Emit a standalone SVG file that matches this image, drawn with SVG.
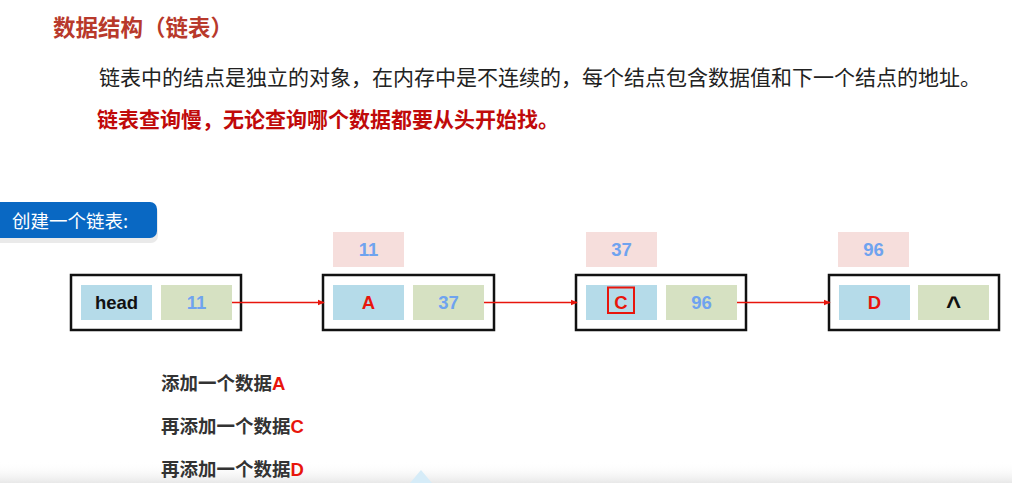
<svg xmlns="http://www.w3.org/2000/svg" width="1012" height="483" viewBox="0 0 1012 483">
<style>
.cjk{font-family:"Noto Sans CJK SC","Noto Sans",sans-serif}
.lat{font-family:"Liberation Sans","Noto Sans CJK SC",sans-serif;font-weight:bold}
.outer{fill:#fff;stroke:#111;stroke-width:2.5}
.bl{fill:#b5dbe9}
.gr{fill:#d6e1c2}
.pk{fill:#f6dedc}
.num{fill:#6fa3ef;font-size:18.5px;text-anchor:middle}
.conn{stroke:#e8150c;stroke-width:1.6;fill:none;marker-end:url(#ah)}
.step{font-size:18.5px;font-weight:bold;fill:#333}
</style>
<defs>
<marker id="ah" viewBox="0 0 10 10" refX="9" refY="5" markerWidth="7" markerHeight="7" markerUnits="userSpaceOnUse" orient="auto">
<path d="M0,1 L10,5 L0,9 z" fill="#e8150c"/>
</marker>
<linearGradient id="bot" x1="0" y1="0" x2="0" y2="1">
<stop offset="0" stop-color="#fff" stop-opacity="0"/>
<stop offset="1" stop-color="#e8e8e8"/>
</linearGradient>
</defs>
<rect width="1012" height="483" fill="#fff"/>
<rect x="0" y="462" width="1012" height="21" fill="url(#bot)"/>
<path d="M410,483 L421,470 L432,483 z" fill="#d6ecf8"/>

<g id="title">
<text class="cjk" x="53" y="36" font-size="22.5" font-weight="bold" fill="#b8392b">数据结构（链表）</text>
<text class="cjk" x="99" y="85" font-size="21" fill="#222">链表中的结点是独立的对象，在内存中是不连续的，每个结点包含数据值和下一个结点的地址。</text>
<text class="cjk" x="97" y="127" font-size="21" font-weight="bold" fill="#c00a0a">链表查询慢，无论查询哪个数据都要从头开始找。</text>
</g>

<g id="label">
<rect x="-10" y="205" width="168" height="38" rx="7" fill="#dcdcdc" opacity="0.6"/>
<rect x="-10" y="202" width="167" height="36" rx="7" fill="#0968c3"/>
<text class="cjk" x="12" y="228" font-size="18.5" fill="#fff">创建一个链表:</text>
</g>

<g id="node-head">
<rect class="outer" x="71" y="275" width="170" height="55"/>
<rect class="bl" x="81" y="285" width="71" height="35"/>
<rect class="gr" x="161" y="285" width="71" height="35"/>
<text class="lat" x="116.5" y="309" font-size="18.5" text-anchor="middle" fill="#111">head</text>
<text class="lat num" x="196.5" y="309">11</text>
</g>

<g id="node-A">
<rect class="pk" x="333" y="232" width="71" height="35"/>
<text class="lat num" x="368.5" y="256">11</text>
<rect class="outer" x="323" y="275" width="171" height="55"/>
<rect class="bl" x="333" y="285" width="71" height="35"/>
<rect class="gr" x="413" y="285" width="71" height="35"/>
<text class="lat" x="368.5" y="309" font-size="18.5" text-anchor="middle" fill="#e8150c">A</text>
<text class="lat num" x="448.5" y="309">37</text>
</g>

<g id="node-C">
<rect class="pk" x="586" y="232" width="71" height="35"/>
<text class="lat num" x="621.5" y="256">37</text>
<rect class="outer" x="576" y="275" width="170" height="55"/>
<rect class="bl" x="586" y="285" width="71" height="35"/>
<rect class="gr" x="666" y="285" width="71" height="35"/>
<rect x="608" y="287.5" width="26" height="25.5" fill="none" stroke="#e8150c" stroke-width="2"/>
<text class="lat" x="621" y="309" font-size="18.5" text-anchor="middle" fill="#e8150c">C</text>
<text class="lat num" x="701.5" y="309">96</text>
</g>

<g id="node-D">
<rect class="pk" x="838" y="232" width="71" height="35"/>
<text class="lat num" x="873.5" y="256">96</text>
<rect class="outer" x="829" y="275" width="170" height="55"/>
<rect class="bl" x="839" y="285" width="71" height="35"/>
<rect class="gr" x="918" y="285" width="71" height="35"/>
<text class="lat" x="874.5" y="309" font-size="18.5" text-anchor="middle" fill="#e8150c">D</text>
<text class="lat" x="953.5" y="315" font-size="26" text-anchor="middle" fill="#111">^</text>
</g>

<g id="connectors">
<line class="conn" x1="232" y1="302.5" x2="324" y2="302.5"/>
<line class="conn" x1="484" y1="302.5" x2="577" y2="302.5"/>
<line class="conn" x1="737" y1="302.5" x2="830" y2="302.5"/>
</g>

<g id="steps">
<text class="cjk step" x="161" y="390">添加一个数据<tspan class="lat" fill="#e8150c">A</tspan></text>
<text class="cjk step" x="161" y="433">再添加一个数据<tspan class="lat" fill="#e8150c">C</tspan></text>
<text class="cjk step" x="161" y="476">再添加一个数据<tspan class="lat" fill="#e8150c">D</tspan></text>
</g>
</svg>
